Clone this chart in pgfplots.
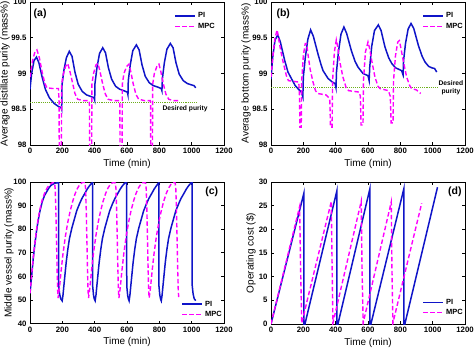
\documentclass[border=0pt]{standalone}
\usepackage{fontspec}
\setmainfont{Liberation Sans}
\usepackage{pgfplots}
\pgfplotsset{compat=1.18}
\definecolor{piblue}{RGB}{15,20,200}
\definecolor{mpcmag}{RGB}{255,0,255}
\definecolor{desgreen}{RGB}{110,175,30}
\tikzset{plab/.style={font=\bfseries\fontsize{10.5}{11}\selectfont}}
\pgfplotsset{
 panel/.style={
  scale only axis, width=194pt, height=143pt,
  xmin=0, xmax=1200, xtick={0,200,...,1200},
  tick align=inside, major tick length=3pt,
  axis line style={line width=0.7pt}, every tick/.style={black, line width=0.6pt},
  tick label style={font=\bfseries\fontsize{7.8}{8}\selectfont},
  /pgf/number format/assume math mode=true,
  /pgf/number format/1000 sep={},
  label style={font=\bfseries\fontsize{8.5}{9}\selectfont},
  xlabel={Time (min)},
  every axis x label/.style={at={(axis description cs:0.5,-0.13)}, anchor=center},
  legend style={draw=none, fill=none, font=\bfseries\fontsize{7.5}{8}\selectfont, inner sep=0pt, row sep=-0.5pt, cells={anchor=west}},
  legend image code/.code={\draw[#1] (0pt,0pt) -- (20pt,0pt);},
 },
 pi/.style={piblue, line width=1.5pt},
 mpc/.style={mpcmag, line width=1.4pt, dash pattern=on 4.5pt off 2.5pt},
 des/.style={desgreen, line width=1.1pt, densely dotted},
}
\begin{document}
\begin{tikzpicture}
\useasboundingbox (0,0) rectangle (474pt,360pt);
% ---------------- (a)
\begin{axis}[panel, at={(30pt,215pt)}, anchor=south west,
  ymin=98, ymax=100, ytick={98,98.5,99,99.5,100},
  ylabel={Average distillate purity (mass\%)},
  every axis y label/.style={at={(axis description cs:-0.129,0.5)}, rotate=90, anchor=center},
  legend style={at={(axis description cs:0.745,0.94)}, anchor=north west}]
\addplot[des, forget plot] coordinates {(0,98.6) (1030,98.6)};
\addplot[pi] coordinates {
(0,98.78) (10,99.0) (25,99.18) (40,99.23) (55,99.15) (75,98.95) (95,98.78) (120,98.66) (150,98.58) (175,98.54) (193,98.52) (196,98.5)
(198,98.84) (210,99.05) (225,99.22) (243,99.31) (260,99.24) (278,99.02) (298,98.85) (323,98.75) (350,98.70) (375,98.68) (396,98.66) (400,98.63)
(402,98.86) (414,99.08) (430,99.28) (450,99.36) (467,99.29) (485,99.08) (505,98.92) (530,98.82) (555,98.78) (580,98.76) (602,98.74) (606,98.70)
(608,98.90) (620,99.12) (636,99.32) (658,99.40) (675,99.33) (693,99.12) (713,98.96) (738,98.87) (763,98.83) (790,98.81) (812,98.79) (816,98.76)
(819,98.93) (831,99.15) (847,99.34) (868,99.42) (885,99.36) (903,99.15) (923,98.99) (948,98.90) (973,98.86) (1000,98.84) (1015,98.83) (1025,98.80)};
\addplot[mpc] coordinates {
(0,98.95) (15,99.17) (30,99.30) (43,99.33) (58,99.22) (75,99.02) (92,98.86) (105,98.80) (140,98.79) (176,98.79) (180,98.60) (182,97.0) (192,97.0)
(196,98.85) (205,98.98) (220,99.10) (233,99.14) (245,99.05) (260,98.90) (278,98.72) (295,98.64) (330,98.62) (365,98.62) (368,98.55) (370,97.0) (380,97.0)
(383,98.85) (393,99.0) (408,99.12) (420,99.14) (432,99.04) (447,98.88) (465,98.72) (482,98.64) (520,98.62) (554,98.62) (556,98.55) (558,97.0) (568,97.0)
(571,98.85) (581,99.0) (598,99.10) (612,99.13) (624,99.02) (638,98.86) (655,98.71) (672,98.64) (710,98.62) (744,98.62) (746,98.55) (748,97.0) (756,97.0)
(759,98.85) (769,99.0) (785,99.10) (798,99.13) (810,99.02) (824,98.86) (841,98.71) (858,98.64) (890,98.62) (918,98.62)};
\legend{PI,MPC}
\node[plab] at (rel axis cs:0.052,0.92) {(a)};
\node[font=\bfseries\fontsize{6.7}{7}\selectfont] at (axis cs:959,98.5) {Desired purity};
\end{axis}
% ---------------- (b)
\begin{axis}[panel, at={(271pt,215pt)}, anchor=south west,
  ymin=98, ymax=100, ytick={98,98.5,99,99.5,100},
  ylabel={Average bottom purity (mass\%)},
  every axis y label/.style={at={(axis description cs:-0.129,0.5)}, rotate=90, anchor=center},
  legend style={at={(axis description cs:0.78,0.94)}, anchor=north west}]
\addplot[des, forget plot] coordinates {(0,98.8) (1030,98.8)};
\addplot[pi] coordinates {
(0,98.92) (10,99.22) (25,99.47) (42,99.54) (58,99.44) (85,99.18) (105,99.02) (126,98.93) (150,98.83) (170,98.78) (188,98.74) (197,98.67)
(200,98.95) (212,99.22) (228,99.48) (245,99.61) (262,99.52) (291,99.27) (310,99.12) (322,99.04) (353,98.93) (380,98.88) (396,98.86) (402,98.80)
(405,99.02) (417,99.30) (433,99.55) (451,99.65) (468,99.56) (497,99.32) (520,99.17) (538,99.09) (569,99.00) (600,98.97) (607,98.90)
(611,99.10) (623,99.38) (640,99.60) (664,99.68) (681,99.60) (705,99.37) (728,99.22) (747,99.14) (770,99.08) (808,99.04) (817,98.98)
(820,99.18) (832,99.42) (848,99.62) (866,99.70) (883,99.63) (912,99.39) (935,99.24) (953,99.16) (975,99.10) (994,99.08) (1012,99.07) (1025,99.02)};
\addplot[mpc] coordinates {
(0,98.95) (12,99.25) (25,99.5) (38,99.61) (50,99.45) (62,99.3) (74,99.17) (95,98.97) (108,98.90) (140,98.89) (172,98.88) (176,98.70) (179,98.25) (187,98.25)
(190,98.9) (200,99.25) (212,99.42) (220,99.42) (230,99.25) (242,99.06) (260,98.88) (275,98.76) (290,98.72) (340,98.70) (358,98.66) (364,98.62) (368,98.25) (378,98.25)
(381,98.9) (392,99.3) (404,99.47) (412,99.38) (424,99.18) (445,98.95) (465,98.80) (480,98.76) (545,98.74) (553,98.68) (557,98.28) (569,98.28)
(572,98.9) (584,99.3) (600,99.44) (610,99.35) (623,99.18) (643,98.95) (662,98.82) (674,98.79) (726,98.76) (738,98.68) (743,98.31) (755,98.31)
(758,98.9) (770,99.25) (784,99.44) (794,99.46) (804,99.35) (818,99.18) (839,98.95) (858,98.83) (870,98.79) (900,98.77) (926,98.72)};
\legend{PI,MPC}
\node[plab] at (rel axis cs:0.063,0.92) {(b)};
\node[font=\bfseries\fontsize{6.7}{7.5}\selectfont, align=center] at (axis cs:1113,98.8) {Desired\\purity};
\end{axis}
% ---------------- (c)
\begin{axis}[panel, at={(30pt,36.5pt)}, anchor=south west, height=141.5pt,
  ymin=40, ymax=100, ytick={40,50,...,100},
  ylabel={Middle vessel purity (mass\%)},
  every axis y label/.style={at={(axis description cs:-0.108,0.5)}, rotate=90, anchor=center},
  legend style={at={(axis description cs:0.78,0.025)}, anchor=south west}]
\addplot[pi] coordinates {
(0,52.8) (10,60) (20,67.5) (29,73) (40,79) (50,83.5) (60,87.2) (75,91.5) (90,94.3) (101,95.6) (115,97.3) (130,98.6) (153,99.5) (177,99.7)
(177.5,56) (183,52.5) (190,50.5) (199,49.6)
(204,52) (211,57) (224,66) (234,71.5) (244,76) (259,80.5) (275,84.4) (289,87.8) (306,90.7) (321,93) (337,94.9) (354,97) (368,98.4) (383,99.6) (387,99.7)
(387.5,56) (393,52) (398,50.3) (403,49.6)
(408,52) (415,57) (428,66) (438,71.5) (448,76) (463,80.5) (479,84.4) (493,87.8) (510,90.7) (525,93) (541,94.9) (558,97) (572,98.4) (587,99.6) (598,99.7)
(598.5,56) (604,52) (609,50.3) (613,49.6)
(618,52) (625,57) (638,66) (648,71.5) (658,76) (673,80.5) (689,84.4) (703,87.8) (720,90.7) (735,93) (751,94.9) (768,97) (782,98.4) (795,99.6) (797,99.7)
(797.5,56) (803,52) (808,50.3) (812,49.6)
(817,52) (824,57) (837,66) (847,71.5) (857,76) (872,80.5) (888,84.4) (902,87.8) (919,90.7) (934,93) (950,94.9) (967,97) (981,98.4) (996,99.6) (1003,99.7)
(1003.5,56) (1009,52.5) (1016,50.5) (1025,49.7)};
\addplot[mpc] coordinates {
(0,52.8) (10,60.3) (20,67.8) (29,73.3) (40,79.5) (50,84.2) (60,88) (75,92.3) (90,95.2) (105,97.4) (120,98.8) (135,99.6) (150,99.8)
(152,99.6) (156,97) (160,88) (164,75) (168,62) (171,54) (174,50.8)
(182,55) (192,62) (204,69.5) (219,77) (234,83) (249,87.8) (264,91.8) (279,95) (294,97.4) (309,99) (324,99.8) (340,99.8)
(344,97) (348,88) (352,75) (356,62) (359,54) (362,50.8)
(370,55) (380,62) (392,69.5) (407,77) (422,83) (437,87.8) (452,91.8) (467,95) (482,97.4) (497,99) (512,99.8) (528,99.6)
(532,97) (536,88) (540,75) (544,62) (547,54) (550,50.8)
(558,55) (568,62) (580,69.5) (595,77) (610,83) (625,87.8) (640,91.8) (655,95) (670,97.4) (685,99) (700,99.8) (715,99.6)
(719,97) (723,88) (727,75) (731,62) (734,54) (737,50.8)
(745,55) (755,62) (767,69.5) (782,77) (797,83) (812,87.8) (827,91.8) (842,95) (857,97.4) (872,99) (887,99.8) (898,99.6)
(902,97) (906,88) (910,75) (914,62) (917,54) (920,51.2)};
\legend{PI,MPC}
\node[plab] at (rel axis cs:0.937,0.93) {(c)};
\end{axis}
% ---------------- (d)
\begin{axis}[panel, at={(271pt,36pt)}, anchor=south west, height=142pt,
  ymin=0, ymax=30, ytick={0,5,...,30},
  ylabel={Operating cost (\$)},
  every axis y label/.style={at={(axis description cs:-0.103,0.5)}, rotate=90, anchor=center},
  legend style={at={(axis description cs:0.78,0.04)}, anchor=south west}]
\addplot[pi] coordinates {
(0,0) (204,27.7) (204,0) (210,0) (408,28.2) (408,0) (414,0) (612,28.6) (612,0) (618,0) (822,28.6) (822,0) (828,0) (1030,28.9)};
\addplot[mpc] coordinates {
(0,0) (177,24.8) (183,12) (190,0.2) (373,25.9) (378,12) (383,0.2) (558,25.9) (563,12) (570,0.2) (744,25.8) (748,12) (754,0.2) (932,25.5)};
\legend{PI,MPC}
\node[plab] at (rel axis cs:0.948,0.93) {(d)};
\end{axis}
\end{tikzpicture}
\end{document}
